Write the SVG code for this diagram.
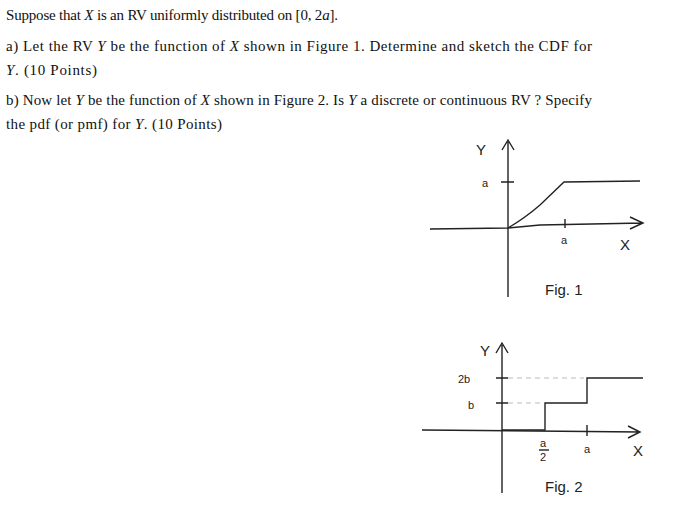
<svg xmlns="http://www.w3.org/2000/svg" width="679" height="512" viewBox="0 0 679 512">
<style>
.t{font-family:"Liberation Serif",serif;font-size:15px;fill:#111}
.h{font-family:"Liberation Sans",sans-serif;font-size:15px;fill:#222}
.s{font-family:"Liberation Sans",sans-serif;font-size:11px;fill:#222}
.l{stroke:#222;stroke-width:1.4;fill:none}
.d{stroke:#bbb;stroke-width:1;stroke-dasharray:5 4;fill:none}
</style>
<rect width="679" height="512" fill="#fff"/>
<g id="text">
<text class="t" x="6" y="20" textLength="332" lengthAdjust="spacing">Suppose that <tspan font-style="italic">X</tspan> is an RV uniformly distributed on [0, 2<tspan font-style="italic">a</tspan>].</text>
<text class="t" x="6" y="51" textLength="586" lengthAdjust="spacing">a) Let the RV <tspan font-style="italic">Y</tspan> be the function of <tspan font-style="italic">X</tspan> shown in Figure 1.  Determine and sketch the CDF for</text>
<text class="t" x="6" y="75" textLength="91" lengthAdjust="spacing"><tspan font-style="italic">Y</tspan>. (10 Points)</text>
<text class="t" x="6" y="105" textLength="586" lengthAdjust="spacing">b) Now let <tspan font-style="italic">Y</tspan> be the function of <tspan font-style="italic">X</tspan> shown in Figure 2.  Is <tspan font-style="italic">Y</tspan> a discrete or continuous RV ? Specify</text>
<text class="t" x="6" y="129" textLength="216" lengthAdjust="spacing">the pdf (or pmf) for <tspan font-style="italic">Y</tspan>.  (10 Points)</text>
</g>
<g id="fig1">
<path class="l" d="M508 297 L508 142 M502 150 L508 140 L514 150"/>
<path class="l" d="M430 229 L508 228 L540 225 L643 223 M630 217 L643 223 L630 229"/>
<path class="l" d="M501 182 L514 182 M565 219 L565 228"/>
<path class="l" d="M508 228 Q525 218 540 205 L564 182 L640 181"/>
<text class="h" x="476" y="155">Y</text>
<text class="s" x="482" y="187">a</text>
<text class="s" x="561" y="244">a</text>
<text class="h" x="620" y="250">X</text>
<text class="h" x="545" y="295">Fig. 1</text>
</g>
<g id="fig2">
<path class="l" d="M502 493 L502 345 M496 353 L502 343 L508 353"/>
<path class="l" d="M422 430 L640 432 M628 426 L640 432 L628 438"/>
<path class="l" d="M496 378 L508 378 M496 403 L508 403 M587 425 L587 436"/>
<path class="l" d="M502 430 L545 430 L545 403 L587 403 L587 378 L643 378"/>
<path class="d" d="M508 378 L584 378 M508 403 L542 403"/>
<text class="h" x="480" y="356">Y</text>
<text class="s" x="458" y="383">2b</text>
<text class="s" x="468" y="409">b</text>
<text class="s" x="540" y="447">a</text>
<path class="l" d="M539 450 L549 450" stroke-width="1"/>
<text class="s" x="540" y="461">2</text>
<text class="s" x="584" y="453">a</text>
<text class="h" x="633" y="456">X</text>
<text class="h" x="545" y="492">Fig. 2</text>
</g>
</svg>
